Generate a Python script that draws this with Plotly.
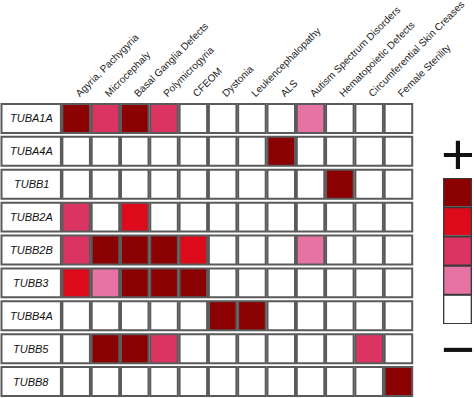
import plotly.graph_objects as go

# ---------------- data ----------------
genes = ["TUBA1A", "TUBA4A", "TUBB1", "TUBB2A", "TUBB2B", "TUBB3", "TUBB4A", "TUBB5", "TUBB8"]
phenotypes = ["Agyria, Pachygyria", "Microcephaly", "Basal Ganglia Defects", "Polymicrogyria",
              "CFEOM", "Dystonia", "Leukencephalopathy", "ALS", "Autism Spectrum Disorders",
              "Hematopoietic Defects", "Circumferential Skin Creases", "Female Sterility"]
# association strength 0 (none) .. 4 (strongest)
TUBA1A = [4, 2, 4, 2, 0, 0, 0, 0, 1, 0, 0, 0]
TUBA4A = [0, 0, 0, 0, 0, 0, 0, 4, 0, 0, 0, 0]
TUBB1 = [0, 0, 0, 0, 0, 0, 0, 0, 0, 4, 0, 0]
TUBB2A = [2, 0, 3, 0, 0, 0, 0, 0, 0, 0, 0, 0]
TUBB2B = [2, 4, 4, 4, 3, 0, 0, 0, 1, 0, 0, 0]
TUBB3 = [3, 1, 4, 4, 4, 0, 0, 0, 0, 0, 0, 0]
TUBB4A = [0, 0, 0, 0, 0, 4, 4, 0, 0, 0, 0, 0]
TUBB5 = [0, 4, 4, 2, 0, 0, 0, 0, 0, 0, 2, 0]
TUBB8 = [0, 0, 0, 0, 0, 0, 0, 0, 0, 0, 0, 4]
legend_levels = [4, 3, 2, 1, 0]
level_colors = ["#FFFFFF", "#E673A3", "#DC3462", "#DD0A1C", "#8B0000"]

z = [TUBA1A, TUBA4A, TUBB1, TUBB2A, TUBB2B, TUBB3, TUBB4A, TUBB5, TUBB8]

# ---------------- styling ----------------
W, H = 474, 398
ML, MT = 0, 102
PX = 29.3                      # pixel pitch of a column
XPLOT = 414                    # right edge of main plot area (px)
X_LEFT = -0.5 - 61.5 / PX      # data value at left edge
X_RIGHT = X_LEFT + XPLOT / PX
BORDER = "#5a5a5a"
FONT = "Arial, Liberation Sans, Helvetica, sans-serif"

colorscale = [[i / 4, c] for i, c in enumerate(level_colors)]

fig = go.Figure()
fig.add_trace(go.Heatmap(
    z=z, x=list(range(len(phenotypes))), y=list(range(len(genes))),
    colorscale=colorscale, zmin=0, zmax=4, showscale=False,
    xgap=2, ygap=4, hoverinfo="skip", xaxis="x", yaxis="y"))

fig.add_trace(go.Heatmap(
    z=[[v] for v in legend_levels], x=[0], y=list(range(len(legend_levels))),
    colorscale=colorscale, zmin=0, zmax=4, showscale=False,
    xgap=0, ygap=1, hoverinfo="skip", xaxis="x2", yaxis="y2"))

shapes = []
hx, hy = 0.47, 0.44
for r in range(len(genes)):
    for c in range(len(phenotypes)):
        shapes.append(dict(type="rect", xref="x", yref="y",
                           x0=c - hx, x1=c + hx, y0=r - hy, y1=r + hy,
                           line=dict(color=BORDER, width=2), layer="above"))
    # gene name box
    shapes.append(dict(type="rect", xref="x", yref="y",
                       x0=X_LEFT + 1.5 / PX, x1=-0.52, y0=r - hy, y1=r + hy,
                       line=dict(color=BORDER, width=2), layer="above"))
for r in range(len(legend_levels)):
    shapes.append(dict(type="rect", xref="x2", yref="y2",
                       x0=-0.48, x1=0.48, y0=r - 0.49, y1=r + 0.49,
                       line=dict(color="#3a3a3a", width=1.5), layer="above"))

annotations = []
for r, g in enumerate(genes):
    annotations.append(dict(x=(X_LEFT + 1.5 / PX - 0.52) / 2, y=r, xref="x", yref="y",
                            text="<i>" + g + "</i>", showarrow=False,
                            font=dict(family=FONT, size=11, color="#111")))
annotations.append(dict(x=457.5 / W, y=(H - 153) / (H - MT), xref="paper", yref="paper",
                        text="+", showarrow=False, xanchor="center", yanchor="middle",
                        font=dict(family=FONT, size=58, color="#111")))
annotations.append(dict(x=457.5 / W, y=(H - 348) / (H - MT), xref="paper", yref="paper",
                        text="\u2212", showarrow=False, xanchor="center", yanchor="middle",
                        font=dict(family=FONT, size=58, color="#111")))

fig.update_layout(
    width=W, height=H, autosize=False,
    margin=dict(l=ML, r=0, t=MT, b=0, pad=0, autoexpand=False),
    paper_bgcolor="white", plot_bgcolor="white",
    showlegend=False,
    xaxis=dict(domain=[0, XPLOT / W], range=[X_LEFT, X_RIGHT], side="top",
               tickmode="array", tickvals=list(range(len(phenotypes))), ticktext=phenotypes,
               tickangle=-45, tickfont=dict(family=FONT, size=10.1, color="#222"),
               ticklabeloverflow="allow",
               showgrid=False, zeroline=False, showline=False, ticks="", ticklen=0,
               automargin=False, fixedrange=True),
    yaxis=dict(range=[len(genes) - 0.5, -0.5], showticklabels=False, showgrid=False,
               zeroline=False, showline=False, automargin=False, fixedrange=True),
    xaxis2=dict(domain=[443 / W, 472 / W], range=[-0.5, 0.5], anchor="y2",
                showticklabels=False, showgrid=False, zeroline=False, showline=False,
                automargin=False, fixedrange=True),
    yaxis2=dict(domain=[(H - 324) / (H - MT), (H - 178) / (H - MT)],
                range=[len(legend_levels) - 0.5, -0.5], anchor="x2",
                showticklabels=False, showgrid=False, zeroline=False, showline=False,
                automargin=False, fixedrange=True),
    shapes=shapes, annotations=annotations,
)

fig.write_html("out.html", config={"responsive": False, "displayModeBar": False},
               post_script="document.body.style.margin='0';")
